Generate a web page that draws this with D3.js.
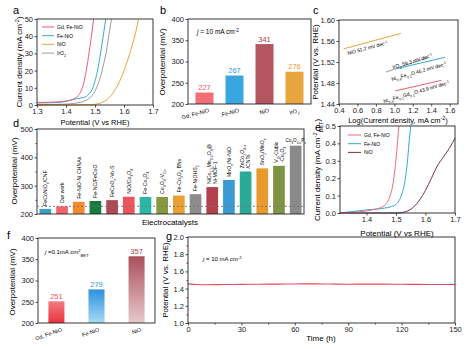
<!DOCTYPE html>
<html><head><meta charset="utf-8">
<script src="https://cdn.jsdelivr.net/npm/d3@7"></script>
<style>body{margin:0;background:#fff}svg{display:block}text{font-family:"Liberation Sans",Arial,sans-serif}</style>
</head><body><svg id="c" width="474" height="349"></svg>
<script>
// ---------- DATA ----------
// panel a: LSV curves (potential V vs RHE, current density mA cm-2)
const aNames = ["Gd, Fe-NiO", "Fe-NiO", "NiO", "IrO_{2}"];
const aColors = ["#ec5b72", "#34a9d6", "#eba43a", "#9a9a9a"];
const aGdX = [1.30,1.34,1.38,1.40,1.42,1.43,1.44,1.45,1.46,1.47,1.48,1.49,1.495];
const aGdY = [1.5,1.6,1.9,2.3,3.0,3.8,5.0,7.5,12,20,31,43,50];
const aFeX = [1.30,1.34,1.38,1.40,1.42,1.44,1.46,1.47,1.48,1.49,1.50,1.51,1.52,1.53,1.537];
const aFeY = [1.2,1.3,1.6,2.2,3.0,3.8,4.3,5.0,6.5,9,14,21,31,42,50];
const aNiX = [1.30,1.40,1.48,1.50,1.52,1.54,1.56,1.58,1.60,1.62,1.64,1.65];
const aNiY = [0.0,0.0,0.1,0.4,1.2,3.0,6.5,12,20,30,42,50];
const aIrX = [1.30,1.35,1.40,1.43,1.45,1.47,1.48,1.49,1.50,1.51,1.52,1.53,1.54,1.55,1.557];
const aIrY = [0.3,0.3,0.5,1.0,1.6,2.8,3.8,5.5,8,12,17,24,32,43,50];
const aXTicks = [1.3,1.4,1.5,1.6,1.7];
const aYTicks = [0,10,20,30,40,50];

// panel b: overpotential at 10 mA cm-2
const bCats = ["Gd, Fe-NiO", "Fe-NiO", "NiO", "IrO_{2}"];
const bVals = [227, 267, 341, 276];
const bColors = ["#f26d75", "#3aa6e0", "#b3565f", "#e9a53f"];
const bLabelColors = ["#ee5566", "#2f9ad8", "#a8404c", "#e39a2a"];
const bYTicks = [200,250,300,350,400];

// panel c: Tafel lines (log j, potential)
const cNames = ["NiO 51.2 mV dec^{-1}", "IrO_{2} 59.3 mV dec^{-1}", "Ni_{0.9}Fe_{0.1}O 46.2 mV dec^{-1}", "Ni_{0.8}Fe_{0.1}Gd_{0.1}O 43.9 mV dec^{-1}"];
const cColors = ["#eba43a", "#9a9a9a", "#34a9d6", "#ec5b72"];
const cX = [[0.45,1.07],[0.91,1.36],[1.02,1.55],[1.01,1.51]];
const cY = [[1.545,1.5745],[1.501,1.528],[1.507,1.529],[1.465,1.485]];
const cXTicks = [0.4,0.6,0.8,1.0,1.2,1.4,1.6];
const cYTicks = [1.44,1.48,1.52,1.56,1.60];

// panel d: comparison with literature
const dCats = ["FeCoNiO_{x}/CNF","Our work","Fe-NiO-Ni CHNAs","Fe-NC/FeCoO","FeCoO_{x}-Vo-S","NiO/Co_{3}O_{4}","Fe-Co_{3}O_{4}","Co_{3}O_{4}-V_{Co}","Fe-Co_{3}O_{4} BNs","Fe-NiOHS_{2}","NiCo_{1.5}Mn_{0.5}O_{4}@|Ni-MOF-1","MnO_{x}/Ni-NiO","ZnCo_{2}O_{4-x}|/CNTs","SnO_{2}/MnO_{x}","V_{O}-Cubic|-Co_{3}O_{4}","Co_{3}O_{4-x}P_{x}"];
const dVals = [218, 227, 243, 246, 249, 261, 260, 260, 265, 270, 295, 320, 350, 361, 370, 441];
const dColors = ["#3b9fc4","#f0646a","#f48a2a","#187a3c","#ad4a55","#ec5560","#2cb6a6","#879a42","#e9a136","#8c8c8c","#b2424e","#3a9bd2","#2aaa98","#e89a2c","#7d9444","#8a8a8a"];
const dYTicks = [200,300,400,500];
const dRef = 227;

// panel e: normalized LSV (mA cm-2 BET)
const eNames = ["Gd, Fe-NiO", "Fe-NiO", "NiO"];
const eColors = ["#ef6b7c", "#2fa9d4", "#7b3444"];
const eGdX = [1.31,1.35,1.40,1.43,1.45,1.46,1.47,1.48,1.49,1.495,1.50,1.505,1.51];
const eGdY = [0.0,0.003,0.012,0.022,0.032,0.042,0.06,0.10,0.17,0.23,0.31,0.41,0.50];
const eFeX = [1.31,1.35,1.40,1.43,1.46,1.48,1.50,1.51,1.52,1.53,1.535,1.54,1.545,1.55];
const eFeY = [0.0,0.008,0.018,0.022,0.028,0.035,0.05,0.07,0.11,0.18,0.24,0.32,0.42,0.50];
const eNiX = [1.31,1.45,1.50,1.52,1.54,1.56,1.58,1.60,1.62,1.64,1.66,1.68,1.70];
const eNiY = [0.0,0.0,0.0,0.003,0.012,0.035,0.075,0.13,0.20,0.27,0.32,0.37,0.43];
const eXTicks = [1.4,1.5,1.6,1.7];
const eYTicks = [0,0.1,0.2,0.3,0.4,0.5];

// panel f: overpotential at 0.1 mA cm-2 BET
const fCats = ["Gd, Fe-NiO", "Fe-NiO", "NiO"];
const fVals = [251, 279, 357];
const fTop = ["#f47a80", "#2d8fdc", "#a9505c"];
const fBottom = ["#e8333c", "#a6dcf2", "#e9c9cb"];
const fLabelColors = ["#ee5566", "#2f9ad8", "#a8404c"];
const fYTicks = [200,250,300,350,400];

// panel g: chronopotentiometry
const gT = [0,5,10,20,30,40,50,60,70,80,90,100,110,120,130,140,150];
const gV = [1.455,1.448,1.445,1.447,1.449,1.451,1.452,1.454,1.455,1.453,1.451,1.452,1.452,1.450,1.449,1.448,1.448];
const gXTicks = [0,30,60,90,120,150];
const gYTicks = [1.0,1.2,1.4,1.6,1.8,2.0];

// ---------- HELPERS ----------
const svg = d3.select("#c");
svg.append("rect").attr("width",474).attr("height",349).attr("fill","#fff");
const TF = 7.5;

function rich(t, str){
  const parts = str.split(/(_\{[^}]*\}|\^\{[^}]*\})/g).filter(s=>s.length);
  parts.forEach(p=>{
    if(p.startsWith("_{")) t.append("tspan").attr("baseline-shift","sub").attr("font-size","70%").text(p.slice(2,-1));
    else if(p.startsWith("^{")) t.append("tspan").attr("baseline-shift","super").attr("font-size","70%").text(p.slice(2,-1));
    else t.append("tspan").text(p);
  });
  return t;
}
function txt(x,y,str,size,opt={}){
  const t = svg.append("text").attr("x",x).attr("y",y).attr("font-size",size)
    .attr("text-anchor",opt.anchor||"start").attr("fill",opt.fill||"#000");
  if(opt.rot!==undefined) t.attr("transform",`rotate(${opt.rot},${x},${y})`);
  return rich(t,str);
}
function frame(x, y){
  const [x0,x1]=x.range(), [y0,y1]=y.range();
  svg.append("rect").attr("x",x0).attr("y",y1).attr("width",x1-x0).attr("height",y0-y1)
    .attr("fill","none").attr("stroke","#222").attr("stroke-width",0.9);
}
function styleAxis(g){
  g.select(".domain").remove();
  g.attr("font-size",TF).attr("font-family","Liberation Sans, Arial, sans-serif");
  g.selectAll(".tick line").attr("stroke","#222").attr("stroke-width",0.8);
  g.selectAll("text").attr("fill","#222");
}
function yAxis(y, x0, ticks, fmt, minor){
  const g = svg.append("g").attr("transform",`translate(${x0},0)`)
    .call(d3.axisLeft(y).tickValues(ticks).tickFormat(fmt).tickSize(2.5).tickPadding(1.5));
  styleAxis(g);
  if(minor) svg.append("g").attr("transform",`translate(${x0},0)`)
    .call(d3.axisLeft(y).tickValues(minor).tickFormat("").tickSize(1.5)).call(styleAxis);
}
function xAxis(x, y0, ticks, fmt, minor){
  const g = svg.append("g").attr("transform",`translate(0,${y0})`)
    .call(d3.axisBottom(x).tickValues(ticks).tickFormat(fmt).tickSize(2.5).tickPadding(1.5));
  styleAxis(g);
  if(minor) svg.append("g").attr("transform",`translate(0,${y0})`)
    .call(d3.axisBottom(x).tickValues(minor).tickFormat("").tickSize(1.5)).call(styleAxis);
}
function curve(x,y,xs,ys,color,w){
  const line = d3.line().x(d=>x(d[0])).y(d=>y(d[1])).curve(d3.curveMonotoneX);
  svg.append("path").attr("d",line(xs.map((v,i)=>[v,ys[i]]))).attr("fill","none")
    .attr("stroke",color).attr("stroke-width",w||1);
}

// ---------- PANEL a ----------
{
  const x = d3.scaleLinear([1.3,1.7],[37,153]);
  const y = d3.scaleLinear([0,50],[105,19]);
  const ser = [[aGdX,aGdY],[aFeX,aFeY],[aNiX,aNiY],[aIrX,aIrY]];
  const order = [3,2,1,0];
  order.forEach(i=>curve(x,y,ser[i][0],ser[i][1],aColors[i],1));
  frame(x,y);
  yAxis(y,37,aYTicks,d3.format("d"));
  xAxis(x,105,aXTicks,d3.format(".1f"));
  aNames.forEach((n,i)=>{
    const yy = 27 + i*8.7;
    svg.append("line").attr("x1",42).attr("x2",54).attr("y1",yy).attr("y2",yy).attr("stroke",aColors[i]).attr("stroke-width",1);
    txt(57,yy+1.8,n,5);
  });
  txt(95,124.5,"Potential (V vs RHE)",7.5,{anchor:"middle"});
  txt(22,62,"Current density (mA cm^{-2})",8,{anchor:"middle",rot:-90});
  txt(13,14,"a",11);
}

// ---------- PANEL b ----------
{
  const x = d3.scaleBand(bCats,[188,311]).paddingInner(0.4).paddingOuter(0.25);
  const y = d3.scaleLinear([200,400],[104,19]);
  svg.selectAll(null).data(bVals).enter().append("rect")
    .attr("x",(d,i)=>x(bCats[i])).attr("width",x.bandwidth())
    .attr("y",d=>y(d)).attr("height",d=>y(200)-y(d)).attr("fill",(d,i)=>bColors[i]);
  bVals.forEach((v,i)=>txt(x(bCats[i])+x.bandwidth()/2, y(v)-2.5, String(v), 7.5, {anchor:"middle", fill:bLabelColors[i]}));
  frame(x,y);
  yAxis(y,188,bYTicks,d3.format("d"));
  bCats.forEach((c,i)=>{
    const cx = x(c)+x.bandwidth()/2+5;
    txt(cx,112,c,5.5,{anchor:"end",rot:-15});
  });
  const t = svg.append("text").attr("x",197).attr("y",34).attr("font-size",6.5);
  t.append("tspan").attr("font-style","italic").text("j");
  rich(t," = 10 mA cm^{-2}");
  txt(165,62,"Overpotential (mV)",8,{anchor:"middle",rot:-90});
  txt(160,14,"b",11);
}

// ---------- PANEL c ----------
{
  const x = d3.scaleLinear([0.4,1.69],[339,458]);
  const y = d3.scaleLinear([1.44,1.60],[104,20]);
  cX.forEach((xs,i)=>curve(x,y,xs,cY[i],cColors[i],1));
  frame(x,y);
  yAxis(y,339,cYTicks,d3.format(".2f"));
  xAxis(x,104,cXTicks,d3.format(".1f"));
  const lab = [[348,55],[393,69],[392,81],[384,103]];
  const rot = [-15,-17,-16,-16];
  cNames.forEach((n,i)=>txt(lab[i][0],lab[i][1],n,5,{rot:rot[i]}));
  txt(398,123,"Log(Current density, mA cm^{-2})",7.5,{anchor:"middle"});
  txt(318,62,"Potential (V vs. RHE)",8,{anchor:"middle",rot:-90});
  txt(313,14,"c",11);
}

// ---------- PANEL d ----------
{
  const x = d3.scaleBand(d3.range(dCats.length),[37,304]).paddingInner(0.3).paddingOuter(0.15);
  const y = d3.scaleLinear([200,500],[214,129]);
  svg.selectAll(null).data(dVals).enter().append("rect")
    .attr("x",(d,i)=>x(i)).attr("width",x.bandwidth())
    .attr("y",d=>y(d)).attr("height",d=>y(200)-y(d)).attr("fill",(d,i)=>dColors[i]);
  svg.append("line").attr("x1",37).attr("x2",304).attr("y1",y(dRef)).attr("y2",y(dRef))
    .attr("stroke","#777").attr("stroke-width",0.9).attr("stroke-dasharray","2,2");
  frame(x.copy().range([37,304]),y);
  yAxis(y,37,dYTicks,d3.format("d"),[250,350,450]);
  dCats.forEach((c,i)=>{
    const lines = c.split("|");
    const cx = x(i)+x.bandwidth()/2;
    const y0 = y(dVals[i])-3;
    if(i===dCats.length-1){
      txt(cx,y0-1,c,4.6,{anchor:"middle"});
      return;
    }
    lines.forEach((l,k)=>{
      const xx = cx + 1.8 + (k-(lines.length-1)/2)*6;
      txt(xx,y0,l,5.2,{rot:-90});
    });
  });
  txt(170,225,"Electrocatalysts",8,{anchor:"middle"});
  txt(17,171,"Overpotential (mV)",8,{anchor:"middle",rot:-90});
  txt(13,127,"d",11);
}

// ---------- PANEL e ----------
{
  const x = d3.scaleLinear([1.31,1.7],[340,455]);
  const y = d3.scaleLinear([0,0.5],[213,126]);
  const ser = [[eGdX,eGdY],[eFeX,eFeY],[eNiX,eNiY]];
  [2,1,0].forEach(i=>curve(x,y,ser[i][0],ser[i][1],eColors[i],1));
  frame(x,y);
  yAxis(y,340,eYTicks,d3.format(".1f"));
  xAxis(x,213,eXTicks,d3.format(".1f"));
  eNames.forEach((n,i)=>{
    const yy = 135 + i*8.7;
    svg.append("line").attr("x1",348).attr("x2",361).attr("y1",yy).attr("y2",yy).attr("stroke",eColors[i]).attr("stroke-width",1);
    txt(364,yy+1.8,n,5);
  });
  txt(397,236,"Potential (V vs RHE)",8,{anchor:"middle"});
  txt(320,170,"Current density (mA cm^{-2}_{BET})",8,{anchor:"middle",rot:-90});
  txt(315,131,"e",11);
}

// ---------- PANEL f ----------
{
  const x = d3.scaleBand(fCats,[38,155]).paddingInner(0.6).paddingOuter(0.26);
  const y = d3.scaleLinear([200,400],[323,238]);
  const defs = svg.append("defs");
  fCats.forEach((c,i)=>{
    const gr = defs.append("linearGradient").attr("id","fg"+i).attr("x1",0).attr("x2",0).attr("y1",0).attr("y2",1);
    gr.append("stop").attr("offset","0%").attr("stop-color",fTop[i]);
    gr.append("stop").attr("offset","100%").attr("stop-color",fBottom[i]);
  });
  svg.selectAll(null).data(fVals).enter().append("rect")
    .attr("x",(d,i)=>x(fCats[i])).attr("width",x.bandwidth())
    .attr("y",d=>y(d)).attr("height",d=>y(200)-y(d)).attr("fill",(d,i)=>`url(#fg${i})`);
  fVals.forEach((v,i)=>txt(x(fCats[i])+x.bandwidth()/2, y(v)-2.5, String(v), 7.5, {anchor:"middle", fill:fLabelColors[i]}));
  frame(x,y);
  yAxis(y,38,fYTicks,d3.format("d"));
  const off = [6,3,5];
  fCats.forEach((c,i)=>{
    txt(x(c)+x.bandwidth()/2+off[i],331,c,5.5,{anchor:"end",rot:-20});
  });
  const t = svg.append("text").attr("x",45).attr("y",254).attr("font-size",6);
  t.append("tspan").attr("font-style","italic").text("j");
  rich(t," =0.1mA cm^{2}_{BET}");
  txt(15,282,"Overpotential (mV)",8,{anchor:"middle",rot:-90});
  txt(7,239,"f",11);
}

// ---------- PANEL g ----------
{
  const x = d3.scaleLinear([0,150],[188,455]);
  const y = d3.scaleLinear([1.0,2.0],[323,237]);
  curve(x,y,gT,gV,"#e34a5c",1.1);
  frame(x,y);
  yAxis(y,188,gYTicks,d3.format(".1f"),[1.1,1.3,1.5,1.7,1.9]);
  xAxis(x,323,gXTicks,d3.format("d"),[15,45,75,105,135]);
  const t = svg.append("text").attr("x",203).attr("y",261).attr("font-size",6);
  t.append("tspan").attr("font-style","italic").text("j");
  rich(t," = 10 mA cm^{-2}");
  txt(321,341,"Time (h)",8,{anchor:"middle"});
  txt(168,280,"Potential (V vs. RHE)",8,{anchor:"middle",rot:-90});
  txt(166,240,"g",11);
}
</script></body></html>
